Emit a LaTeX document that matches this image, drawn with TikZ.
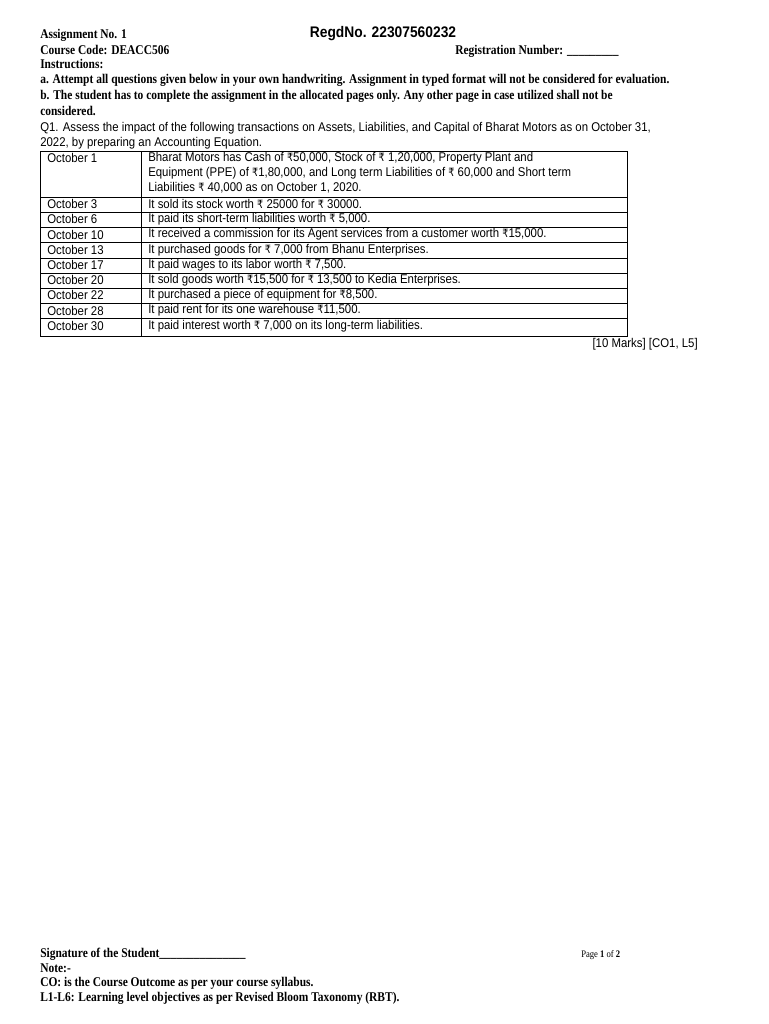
\documentclass[tikz,border=0pt]{standalone}
\usepackage{fontspec}
\setmainfont{Liberation Serif}[FakeStretch=0.86]
\setsansfont{Liberation Sans}[FakeStretch=0.9]
\newfontfamily\dejarupee{DejaVu Sans}[FakeStretch=0.85]
\newcommand{\rsym}{{\dejarupee\fontsize{8.5}{10}\selectfont ₹}}
\begin{document}
\begin{tikzpicture}[x=0.75pt,y=-0.75pt,
  hd/.style={anchor=west,inner sep=0,font=\fontsize{10}{11}\selectfont\bfseries},
  tx/.style={anchor=west,inner sep=0,font=\sffamily\fontsize{9.5}{11}\selectfont},
  ln/.style={line width=0.6pt}]
\useasboundingbox[fill=white] (0,0) rectangle (768,1024);
\node[hd] (a1) at (40,35) {Assignment No. 1};
\node[anchor=center,inner sep=0,font=\sffamily\bfseries\fontsize{11.5}{12}\selectfont] (rg) at (383,34) {RegdNo. 22307560232};
\node[hd] (cc) at (40,50) {Course Code: DEACC506};
\node[hd] (rn) at (455,51) {Registration Number: \_\_\_\_\_\_\_\_\_};
\node[hd] (in) at (40,64) {Instructions:};
\node[hd] (ia) at (40,80) {a. Attempt all questions given below in your own handwriting. Assignment in typed format will not be considered for evaluation.};
\node[hd] (ib) at (40,96) {b. The student has to complete the assignment in the allocated pages only. Any other page in case utilized shall not be};
\node[hd] (ic) at (40,111) {considered.};
\node[tx] (q1) at (40,128) {Q1. Assess the impact of the following transactions on Assets, Liabilities, and Capital of Bharat Motors as on October 31,};
\node[tx] (q2) at (40,143) {2022, by preparing an Accounting Equation.};
% table
\draw[ln] (40,151) rectangle (627,336);
\draw[ln] (141,151) -- (141,336);
\foreach \y in {197,212,227,242,258,273,288,303,318} \draw[ln] (40,\y) -- (627,\y);
\node[tx] (d1) at (47,158) {October 1};
\node[tx] (t1a) at (148,158) {Bharat Motors has Cash of \rsym50,000, Stock of \rsym{} 1,20,000, Property Plant and};
\node[tx] (t1b) at (148,173) {Equipment (PPE) of \rsym1,80,000, and Long term Liabilities of \rsym{} 60,000 and Short term};
\node[tx] (t1c) at (148,188) {Liabilities \rsym{} 40,000 as on October 1, 2020.};
\foreach \n/\d/\t [count=\i] in {
 d3/October 3/{It sold its stock worth \rsym{} 25000 for \rsym{} 30000.},
 d6/October 6/{It paid its short-term liabilities worth \rsym{} 5,000.},
 d10/October 10/{It received a commission for its Agent services from a customer worth \rsym15,000.},
 d13/October 13/{It purchased goods for \rsym{} 7,000 from Bhanu Enterprises.},
 d17/October 17/{It paid wages to its labor worth \rsym{} 7,500.},
 d20/October 20/{It sold goods worth \rsym15,500 for \rsym{} 13,500 to Kedia Enterprises.},
 d22/October 22/{It purchased a piece of equipment for \rsym8,500.},
 d28/October 28/{It paid rent for its one warehouse \rsym11,500.},
 d30/October 30/{It paid interest worth \rsym{} 7,000 on its long-term liabilities.}} {
  \node[tx] (\n) at (47,{189+15.2*\i}) {\d};
  \node[tx] (t\n) at (148,{189+15.2*\i}) {\t};
}
\node[tx,anchor=east] (mk) at (698,344) {[10 Marks] [CO1, L5]};
% footer
\node[hd] (sg) at (40,954) {Signature of the Student\_\_\_\_\_\_\_\_\_\_\_\_\_\_\_};
\node[anchor=west,inner sep=0,font=\fontsize{7.5}{9}\selectfont] (pg) at (581,955) {Page \textbf{1} of \textbf{2}};
\node[hd] (nt) at (40,968) {Note:-};
\node[hd] (co) at (40,983) {CO: is the Course Outcome as per your course syllabus.};
\node[hd] (ll) at (40,998) {L1-L6: Learning level objectives as per Revised Bloom Taxonomy (RBT).};
\end{tikzpicture}
\end{document}
